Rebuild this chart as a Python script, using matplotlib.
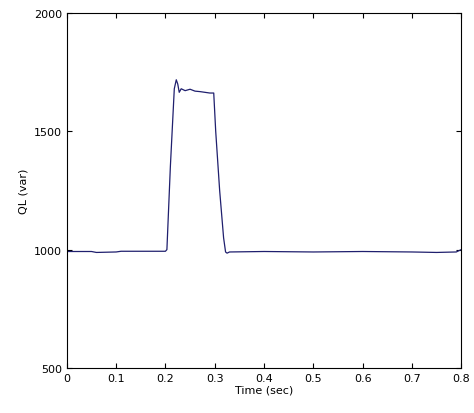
import matplotlib; matplotlib.use('Agg')
import matplotlib.pyplot as plt

# reactive power trace
t = [0.0, 0.05, 0.06, 0.1, 0.11, 0.2, 0.203, 0.21, 0.218, 0.222, 0.225, 0.228, 0.232,
     0.24, 0.25, 0.26, 0.27, 0.28, 0.29, 0.298, 0.302, 0.31, 0.318, 0.322, 0.325,
     0.33, 0.4, 0.5, 0.6, 0.7, 0.75, 0.79, 0.8]
ql = [992, 992, 988, 990, 993, 993, 1000, 1350, 1680, 1718, 1700, 1665, 1680,
      1672, 1678, 1670, 1668, 1665, 1662, 1662, 1500, 1250, 1050, 990, 985,
      990, 992, 990, 992, 990, 988, 990, 1000]

fig = plt.figure(figsize=(4.74, 4.14), dpi=100)
ax = fig.add_axes([0.141, 0.109, 0.832, 0.857])
ax.plot(t, ql, color='#1f1f6e', lw=0.9)
ax.set_xlim(0, 0.8)
ax.set_ylim(500, 2000)
ax.set_xticks([0, 0.1, 0.2, 0.3, 0.4, 0.5, 0.6, 0.7, 0.8])
ax.set_xticklabels(['0', '0.1', '0.2', '0.3', '0.4', '0.5', '0.6', '0.7', '0.8'])
ax.set_yticks([500, 1000, 1500, 2000])
ax.tick_params(direction='in', labelsize=8, top=True, right=True)
ax.set_xlabel('Time (sec)', fontsize=8, labelpad=1)
ax.set_ylabel('QL (var)', fontsize=8)
fig.savefig('out.png', dpi=100, facecolor='white')
